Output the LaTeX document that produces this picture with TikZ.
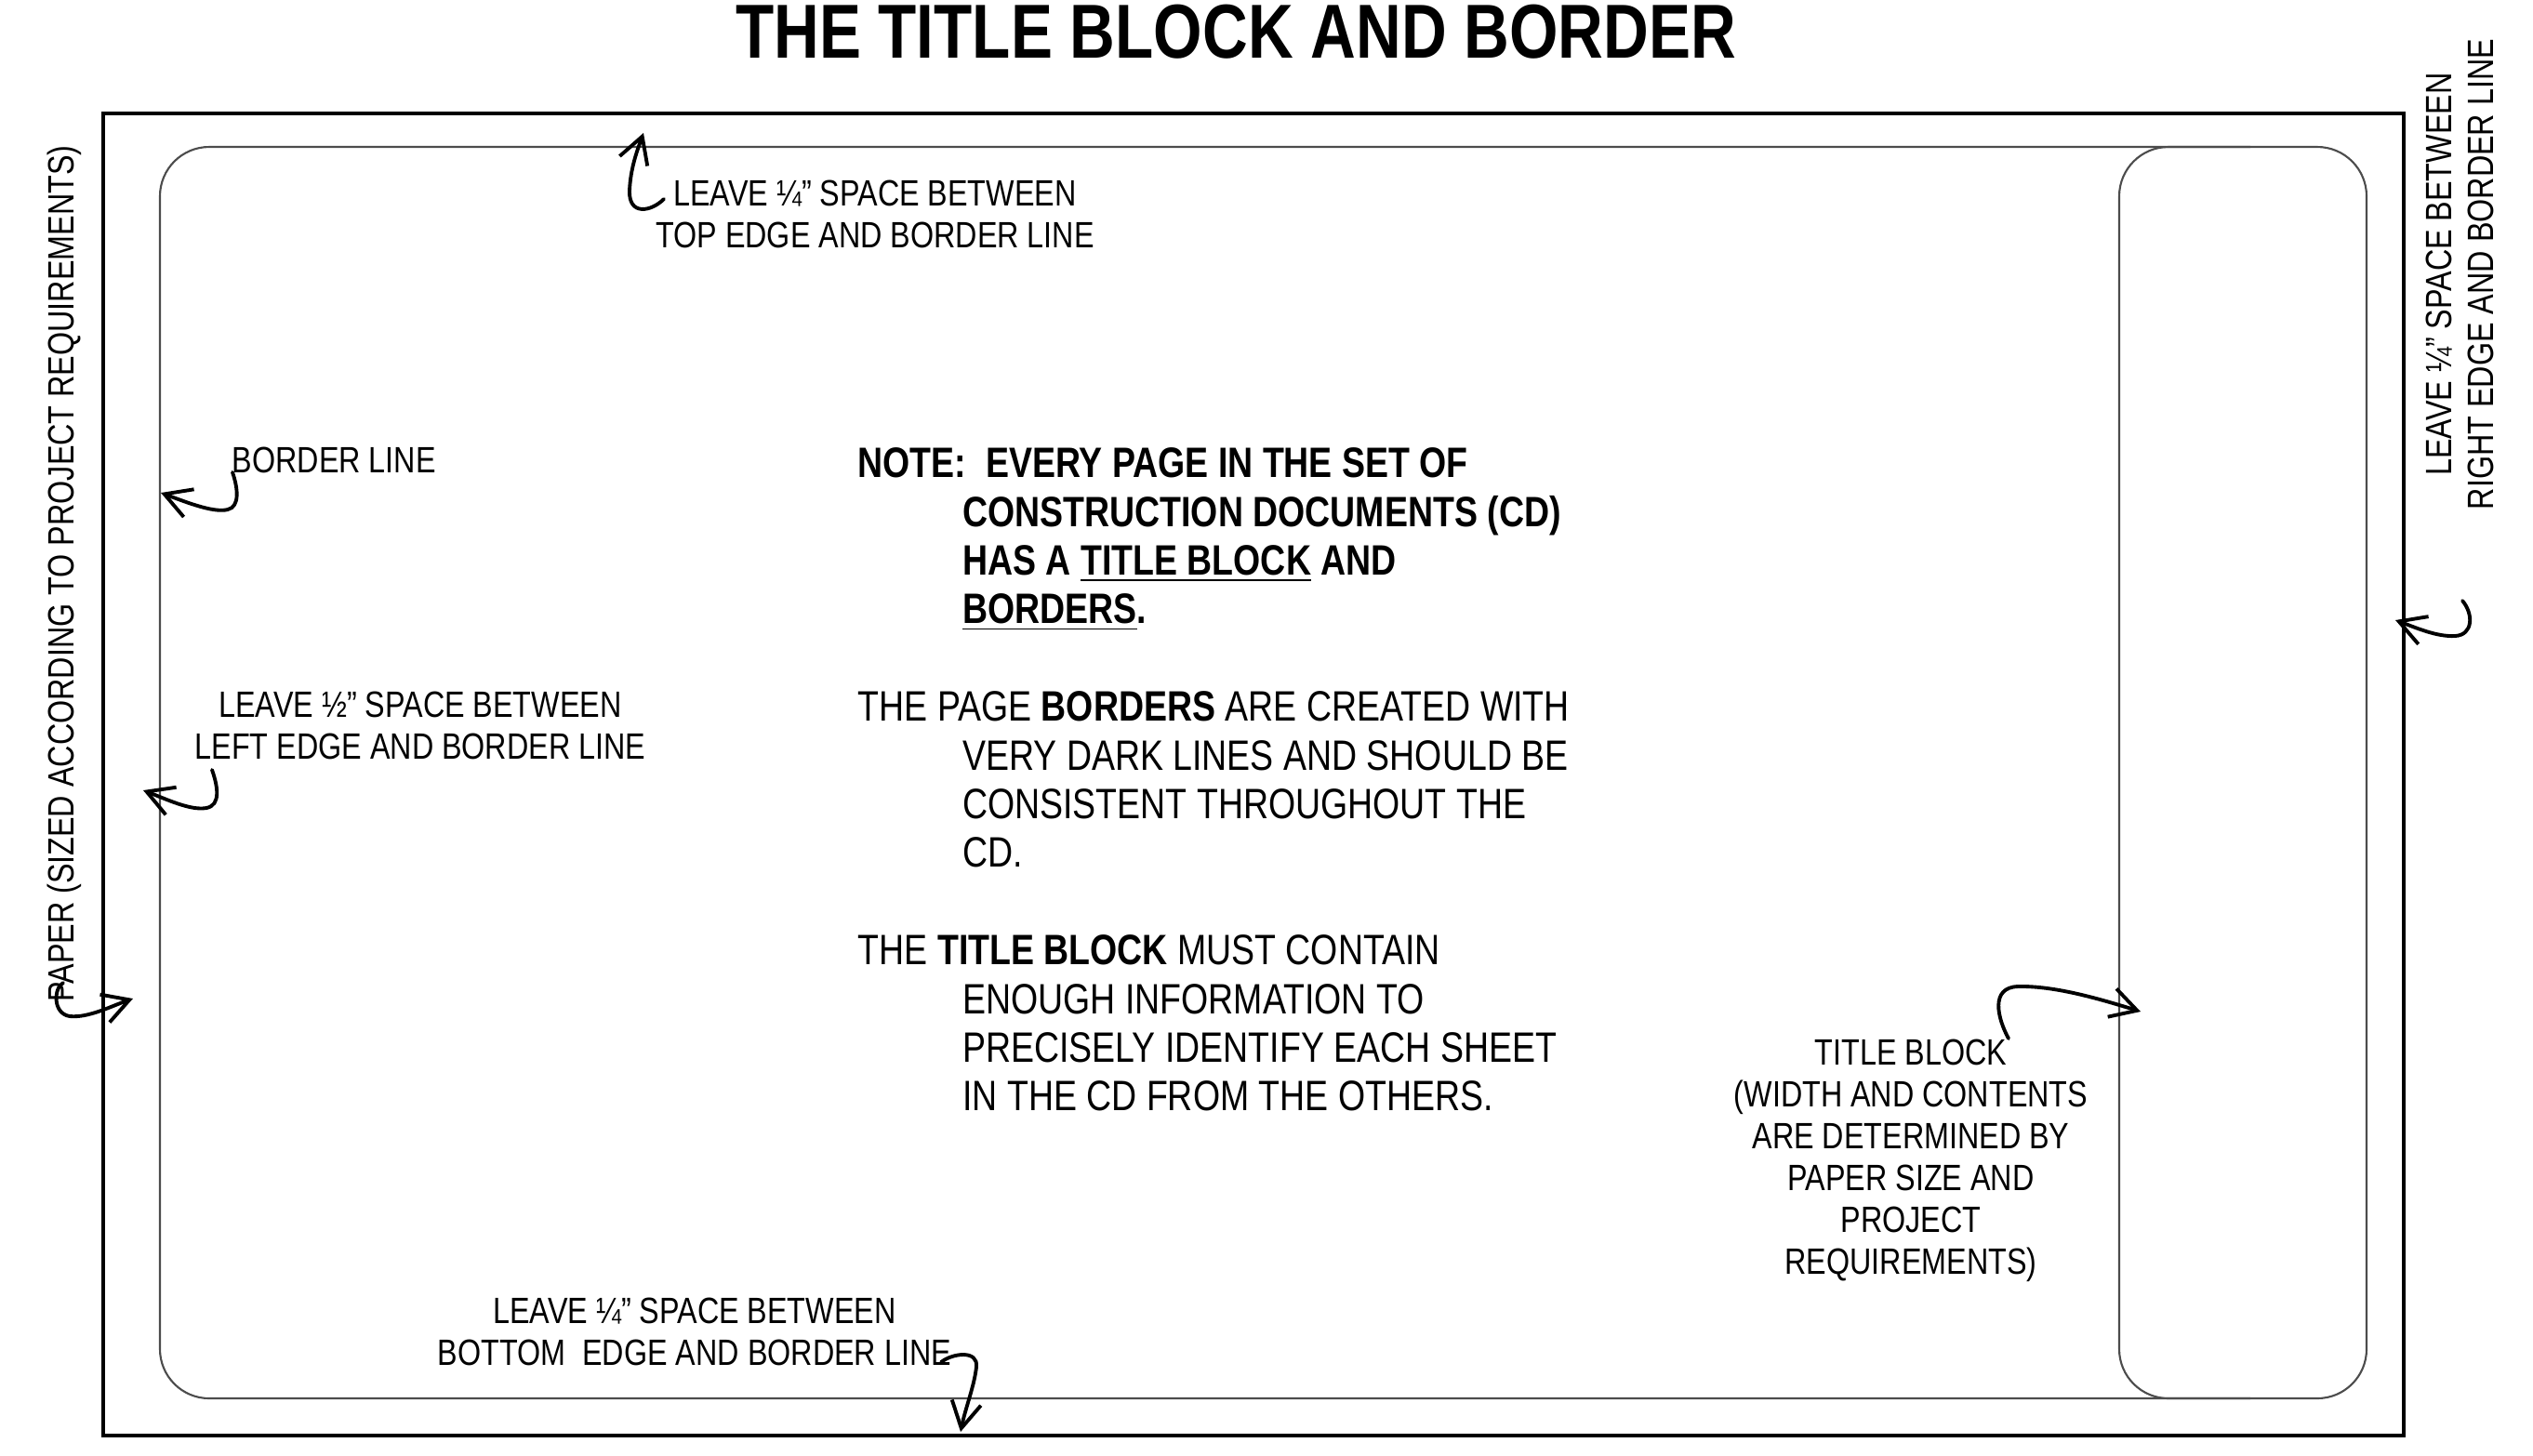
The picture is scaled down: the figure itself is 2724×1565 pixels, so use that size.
\documentclass[tikz,border=0pt]{standalone}
\usepackage{fontspec}
\newfontfamily\narrow[FakeStretch=0.82]{Liberation Sans}
\usetikzlibrary{arrows.meta}
\begin{document}
\begin{tikzpicture}[x=0.01cm,y=-0.01cm,
  paperedge/.style={line width=1.2pt,black},
  borderln/.style={line width=0.6pt,black!70},
  hookarrow/.style={line width=1.1pt,line cap=round,-{Straight Barb[length=8pt,width=9pt,line width=1.1pt]}},
  lbl/.style={font=\narrow\fontsize{11.2}{12.8}\selectfont,align=center,inner sep=0pt},
  notetext/.style={font=\narrow\fontsize{13}{14.9}\selectfont,align=left,inner sep=0pt},
  titletext/.style={font=\narrow\bfseries\fontsize{23.4}{28}\selectfont,inner sep=0pt}]
\useasboundingbox (0,0) rectangle (2724,1565);

% title
\node[titletext,anchor=base] (title) at (1329,62) {THE TITLE BLOCK AND BORDER};

% paper edge
\draw[paperedge] (111,122) rectangle (2585,1544);
% border line
\draw[borderln,rounded corners=5.3mm] (172,158) rectangle (2545,1504);
% title block
\draw[borderln,rounded corners=5.3mm] (2420,158) -- (2279,158) -- (2279,1504) -- (2420,1504);

% labels
\node[lbl,anchor=north] (toplbl) at (941,193) {LEAVE ¼” SPACE BETWEEN\\TOP EDGE AND BORDER LINE};
\node[lbl,anchor=north west] (bl) at (249,480) {BORDER LINE};
\node[lbl,anchor=north] (leftlbl) at (452,743) {LEAVE ½” SPACE BETWEEN\\LEFT EDGE AND BORDER LINE};
\node[lbl,rotate=90] (paperlbl) at (69,617) {PAPER (SIZED ACCORDING TO PROJECT REQUIREMENTS)};
\node[lbl,rotate=90] (rightlbl) at (2645,295) {LEAVE ¼” SPACE BETWEEN\\RIGHT EDGE AND BORDER LINE};
\node[lbl,anchor=north] (tblbl) at (2055,1117) {TITLE BLOCK\\(WIDTH AND CONTENTS\\ARE DETERMINED BY\\PAPER SIZE AND\\PROJECT\\REQUIREMENTS)};
\node[lbl,anchor=north] (botlbl) at (747,1395) {LEAVE ¼” SPACE BETWEEN\\BOTTOM\ \ EDGE AND BORDER LINE};

% note
\node[notetext,anchor=north west] (note) at (922,481) {%
\textbf{NOTE:\ \ EVERY PAGE IN THE SET OF}\\
\hspace*{32pt}\textbf{CONSTRUCTION DOCUMENTS (CD)}\\
\hspace*{32pt}\textbf{HAS A \underline{TITLE BLOCK} AND}\\
\hspace*{32pt}\textbf{\underline{BORDERS}.}\\[14.9pt]
THE PAGE \textbf{BORDERS} ARE CREATED WITH\\
\hspace*{32pt}VERY DARK LINES AND SHOULD BE\\
\hspace*{32pt}CONSISTENT THROUGHOUT THE\\
\hspace*{32pt}CD.\\[14.9pt]
THE \textbf{TITLE BLOCK} MUST CONTAIN\\
\hspace*{32pt}ENOUGH INFORMATION TO\\
\hspace*{32pt}PRECISELY IDENTIFY EACH SHEET\\
\hspace*{32pt}IN THE CD FROM THE OTHERS.};

% arrows
\coordinate (a1s) at (714,214); \coordinate (a1t) at (692,143);
\draw[hookarrow] (a1s) .. controls (700,228) and (676,232) .. (677,205) .. controls (678,180) and (686,160) .. (a1t);
\coordinate (a2s) at (250,508); \coordinate (a2t) at (173,530);
\draw[hookarrow] (a2s) .. controls (256,525) and (258,545) .. (245,548) .. controls (230,552) and (200,540) .. (a2t);
\coordinate (a3s) at (228,828); \coordinate (a3t) at (154,850);
\draw[hookarrow] (a3s) .. controls (234,845) and (238,866) .. (222,869) .. controls (205,872) and (180,860) .. (a3t);
\coordinate (a4s) at (68,1057); \coordinate (a4t) at (143,1074);
\draw[hookarrow] (a4s) .. controls (58,1062) and (56,1090) .. (75,1093) .. controls (95,1095) and (120,1082) .. (a4t);
\coordinate (a5s) at (2648,646); \coordinate (a5t) at (2576,667);
\draw[hookarrow] (a5s) .. controls (2660,660) and (2660,683) .. (2640,684) .. controls (2620,685) and (2598,675) .. (a5t);
\coordinate (a6s) at (2160,1117); \coordinate (a6t) at (2302,1088);
\draw[hookarrow] (a6s) .. controls (2148,1095) and (2140,1062) .. (2170,1061) .. controls (2210,1060) and (2260,1075) .. (a6t);
\coordinate (a7s) at (1012,1465); \coordinate (a7t) at (1033,1540);
\draw[hookarrow] (a7s) .. controls (1025,1455) and (1052,1452) .. (1050,1470) .. controls (1048,1490) and (1038,1515) .. (a7t);
\end{tikzpicture}
\end{document}
